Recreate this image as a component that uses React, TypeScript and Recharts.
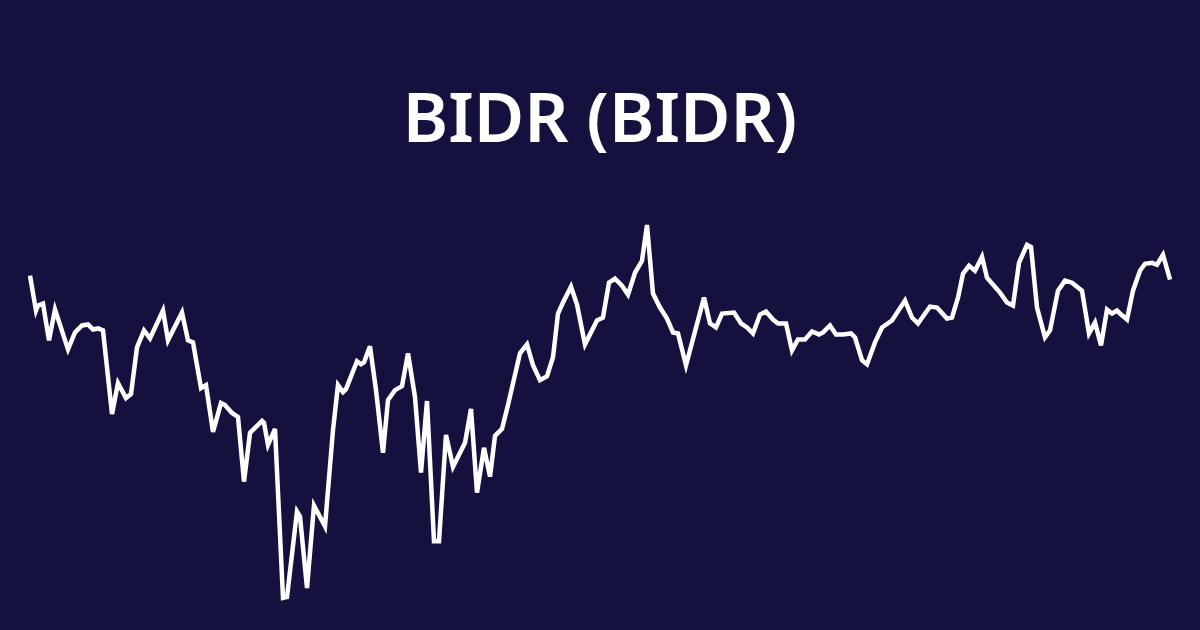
import { LineChart, Line, XAxis, YAxis } from "recharts";

const title = "BIDR (BIDR)";

// day offsets along the period
const days = [
  0, 6, 8, 13, 19, 25, 38, 45, 52, 58, 63, 68, 73, 82, 88, 96, 101, 107, 114, 120,
  133, 138, 152, 158, 163, 171, 176, 183, 191, 195, 202, 208, 214, 220, 225, 232, 234, 238, 245, 253,
  257, 267, 270, 277, 284, 295, 303, 308, 313, 316, 327, 331, 334, 340, 346, 353, 358, 365, 372, 378,
  385, 391, 397, 404, 409, 416, 423, 435, 441, 447, 454, 460, 465, 472, 478, 490, 497, 503, 510, 517,
  523, 528, 533, 541, 547, 555, 567, 573, 579, 585, 592, 598, 605, 612, 617, 623, 630, 637, 643, 648,
  656, 674, 680, 686, 692, 704, 711, 717, 723, 730, 736, 743, 748, 756, 762, 768, 775, 782, 789, 793,
  800, 806, 813, 821, 825, 832, 837, 845, 852, 862, 875, 882, 888, 900, 907, 917, 922, 928, 933, 939,
  945, 952, 957, 970, 977, 983, 989, 997, 1001, 1007, 1015, 1020, 1028, 1035, 1042, 1052, 1059, 1065, 1071, 1077,
  1082, 1087, 1090, 1097, 1103, 1110, 1115, 1122, 1127, 1133, 1140,
];

// relative price index
const values = [
  355, 320, 325, 327, 290, 321, 281, 298, 305, 306, 301, 302, 300, 216, 247, 232, 236, 283, 300, 292,
  320, 290, 318, 290, 288, 242, 245, 198, 227, 225, 217, 213, 148, 197, 202, 209, 207, 185, 201, 31,
  32, 118, 113, 41, 124, 103, 200, 245, 238, 241, 269, 266, 268, 284, 240, 177, 230, 240, 244, 277,
  233, 157, 229, 88, 88, 195, 163, 187, 221, 137, 182, 153, 194, 201, 225, 277, 286, 265, 250, 254,
  273, 317, 328, 344, 326, 286, 310, 313, 348, 352, 345, 336, 358, 370, 406, 337, 323, 312, 298, 297,
  265, 333, 307, 303, 317, 318, 307, 303, 297, 316, 319, 311, 307, 307, 280, 291, 291, 299, 296, 298,
  305, 296, 296, 297, 293, 270, 266, 288, 303, 310, 330, 313, 307, 324, 323, 312, 313, 333, 357, 365,
  360, 374, 353, 338, 328, 325, 368, 386, 384, 323, 293, 300, 340, 350, 348, 340, 297, 308, 285, 321,
  317, 320, 317, 311, 340, 360, 367, 368, 366, 376, 351,
];

const data = days.map((d, i) => ({ day: d, value: values[i] }));

export default function App() {
  return (
    <div
      style={{
        position: "absolute",
        top: 0,
        left: 0,
        width: 1200,
        height: 630,
        background: "#15113e",
        overflow: "hidden",
      }}
    >
      <div
        style={{
          position: "absolute",
          top: 81,
          left: 0,
          width: 1200,
          textAlign: "center",
          color: "#ffffff",
          fontFamily: "'Noto Sans', sans-serif",
          fontWeight: 600,
          fontSize: 69,
          lineHeight: "69px",
        }}
      >
        {title}
      </div>
      <div style={{ position: "absolute", top: 0, left: 0 }}>
        <LineChart
          width={1200}
          height={630}
          data={data}
          margin={{ top: 225, right: 30, bottom: 32, left: 30 }}
        >
          <XAxis dataKey="day" type="number" domain={["dataMin", "dataMax"]} hide />
          <YAxis type="number" domain={["dataMin", "dataMax"]} hide />
          <Line
            type="linear"
            dataKey="value"
            stroke="#ffffff"
            strokeWidth={4.5}
            dot={false}
            isAnimationActive={false}
          />
        </LineChart>
      </div>
    </div>
  );
}
